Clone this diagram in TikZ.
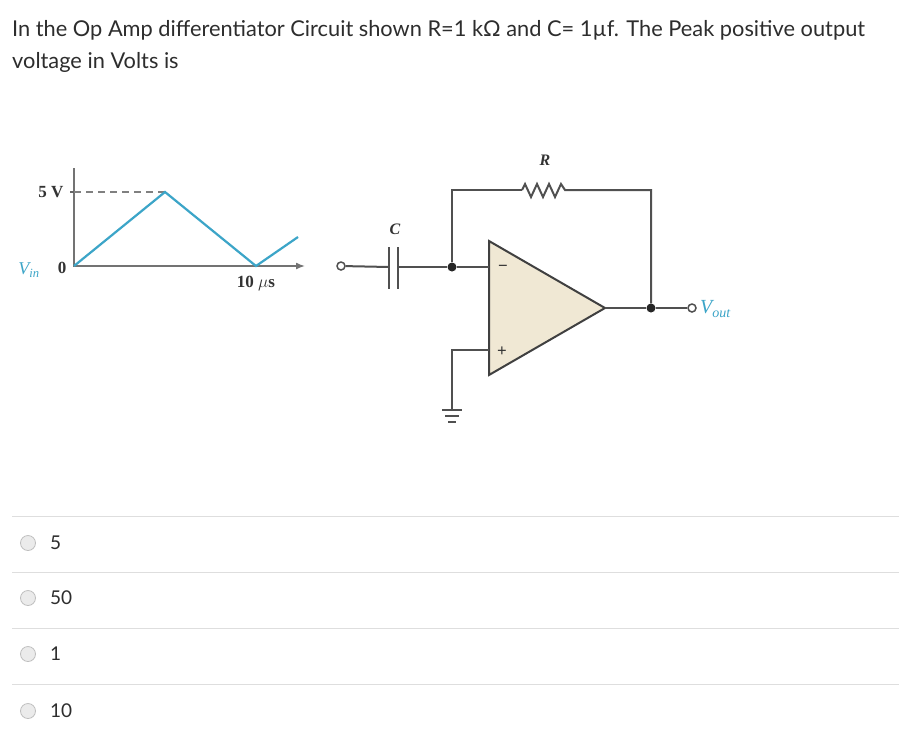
\documentclass[tikz,border=0pt]{standalone}
\usepackage{fontspec}
\setmainfont{Lato}
\newfontfamily\serifc{Liberation Serif}
\usetikzlibrary{arrows.meta}
\definecolor{txt}{RGB}{45,45,45}
\definecolor{wire}{RGB}{80,80,80}
\definecolor{sig}{RGB}{60,165,200}
\definecolor{amp}{RGB}{240,232,212}
\definecolor{sep}{RGB}{222,222,222}
\tikzset{
 wirestyle/.style={draw=wire,line width=2pt},
 dotnode/.style={circle,fill=black!85,inner sep=0pt,minimum size=9pt},
 opennode/.style={circle,draw=wire,fill=white,line width=1.5pt,inner sep=0pt,minimum size=8pt},
 lbl/.style={font=\serifc\bfseries\fontsize{17}{17}\selectfont,text=black!80,inner sep=0pt},
 ilbl/.style={lbl,font=\serifc\bfseries\itshape\fontsize{16}{16}\selectfont},
 qtext/.style={font=\fontsize{21.8}{26}\selectfont,text=txt,anchor=west,inner sep=0pt},
 radio/.style={circle,draw=black!25,fill=black!8,line width=0.8pt,inner sep=0pt,minimum size=15pt},
 ans/.style={font=\fontsize{19}{22}\selectfont,text=txt,anchor=west,inner sep=0pt}
}
\begin{document}
\begin{tikzpicture}[x=1pt,y=-1pt]
\useasboundingbox[fill=white] (0,0) rectangle (899,742);
\node[qtext] (q1) at (12,30) {In the Op Amp differentiator Circuit shown R=1 kΩ and C= 1µf. The Peak positive output};
\node[qtext] (q2) at (12,62) {voltage in Volts is};
% graph
\draw[draw=black!55,line width=1.5pt] (74,168) -- (74,267);
\draw[draw=black!55,line width=1.5pt,-{Latex[length=9pt,width=7pt]}] (74,266) -- (305,266);
\draw[draw=black!50,line width=1.5pt,dash pattern=on 7pt off 5pt] (74,192) -- (165,192);
\draw[draw=black!60,line width=1.5pt] (70,192) -- (74,192);
\draw[sig,line width=2.2pt] (74,266) -- (165,192) -- (256,266) -- (298,237);
\node[lbl] (v5) at (51,192) {5 V};
\node[lbl] (v0) at (62,268) {0};
\node[lbl,text=sig,font=\serifc\itshape\fontsize{18}{18}\selectfont] (vin) at (29,270) {V\textsubscript{\itshape in}};
\node[lbl] (t10) at (256,284) {10 $\mu$s};
% circuit
\node[opennode] (in) at (341,266) {};
\coordinate (c1) at (389,267);
\coordinate (c2) at (398,267);
\node[dotnode] (j) at (452,267) {};
\draw[wirestyle] (in) -- (c1);
\draw[wirestyle] (c2) -- (j);
\draw[wirestyle] (389,247) -- (389,289);
\draw[wirestyle] (398,247) -- (398,289);
\node[ilbl] (C) at (395,229) {C};
% op amp
\coordinate (tl) at (489,241);
\coordinate (bl) at (489,375);
\coordinate (tip) at (605,308);
\draw[fill=amp,draw=black!75,line width=2pt] (tl) -- (tip) -- (bl) -- cycle;
\node[lbl] (minus) at (503,268) {\textminus};
\node[lbl] (plus) at (502,352) {+};
\draw[wirestyle] (j) -- (489,267);
\node[dotnode] (o) at (651,308) {};
\node[opennode] (out) at (692,308) {};
\draw[wirestyle] (tip) -- (o) -- (out);
\draw[wirestyle] (j) -- (452,190) -- (522,190);
\draw[wirestyle,line join=miter] (522,190) -- (525,184) -- (531,197) -- (537,184) -- (543,197) -- (549,184) -- (555,197) -- (561,184) -- (565,190) -- (651,190) -- (o);
\node[ilbl] (R) at (545,160) {R};
\node[lbl,text=sig,font=\serifc\itshape\fontsize{20}{20}\selectfont,anchor=west] (vout) at (700,309) {V\textsubscript{\itshape out}};
\coordinate (g) at (452,410);
\draw[wirestyle] (489,350) -- (452,350) -- (g);
\draw[wirestyle] (442,410) -- (462,410);
\draw[wirestyle] (445,416) -- (459,416);
\draw[wirestyle] (448,422) -- (456,422);
% answers
\foreach \y in {516,572,628,684} \draw[sep,line width=1pt] (12,\y) -- (899,\y);
\node[radio] (r1) at (28,543) {};
\node[radio] (r2) at (28,598) {};
\node[radio] (r3) at (28,654) {};
\node[radio] (r4) at (28,711) {};
\node[ans] (a1) at (50,543) {5};
\node[ans] (a2) at (50,598) {50};
\node[ans] (a3) at (50,654) {1};
\node[ans] (a4) at (50,711) {10};
\end{tikzpicture}
\end{document}
